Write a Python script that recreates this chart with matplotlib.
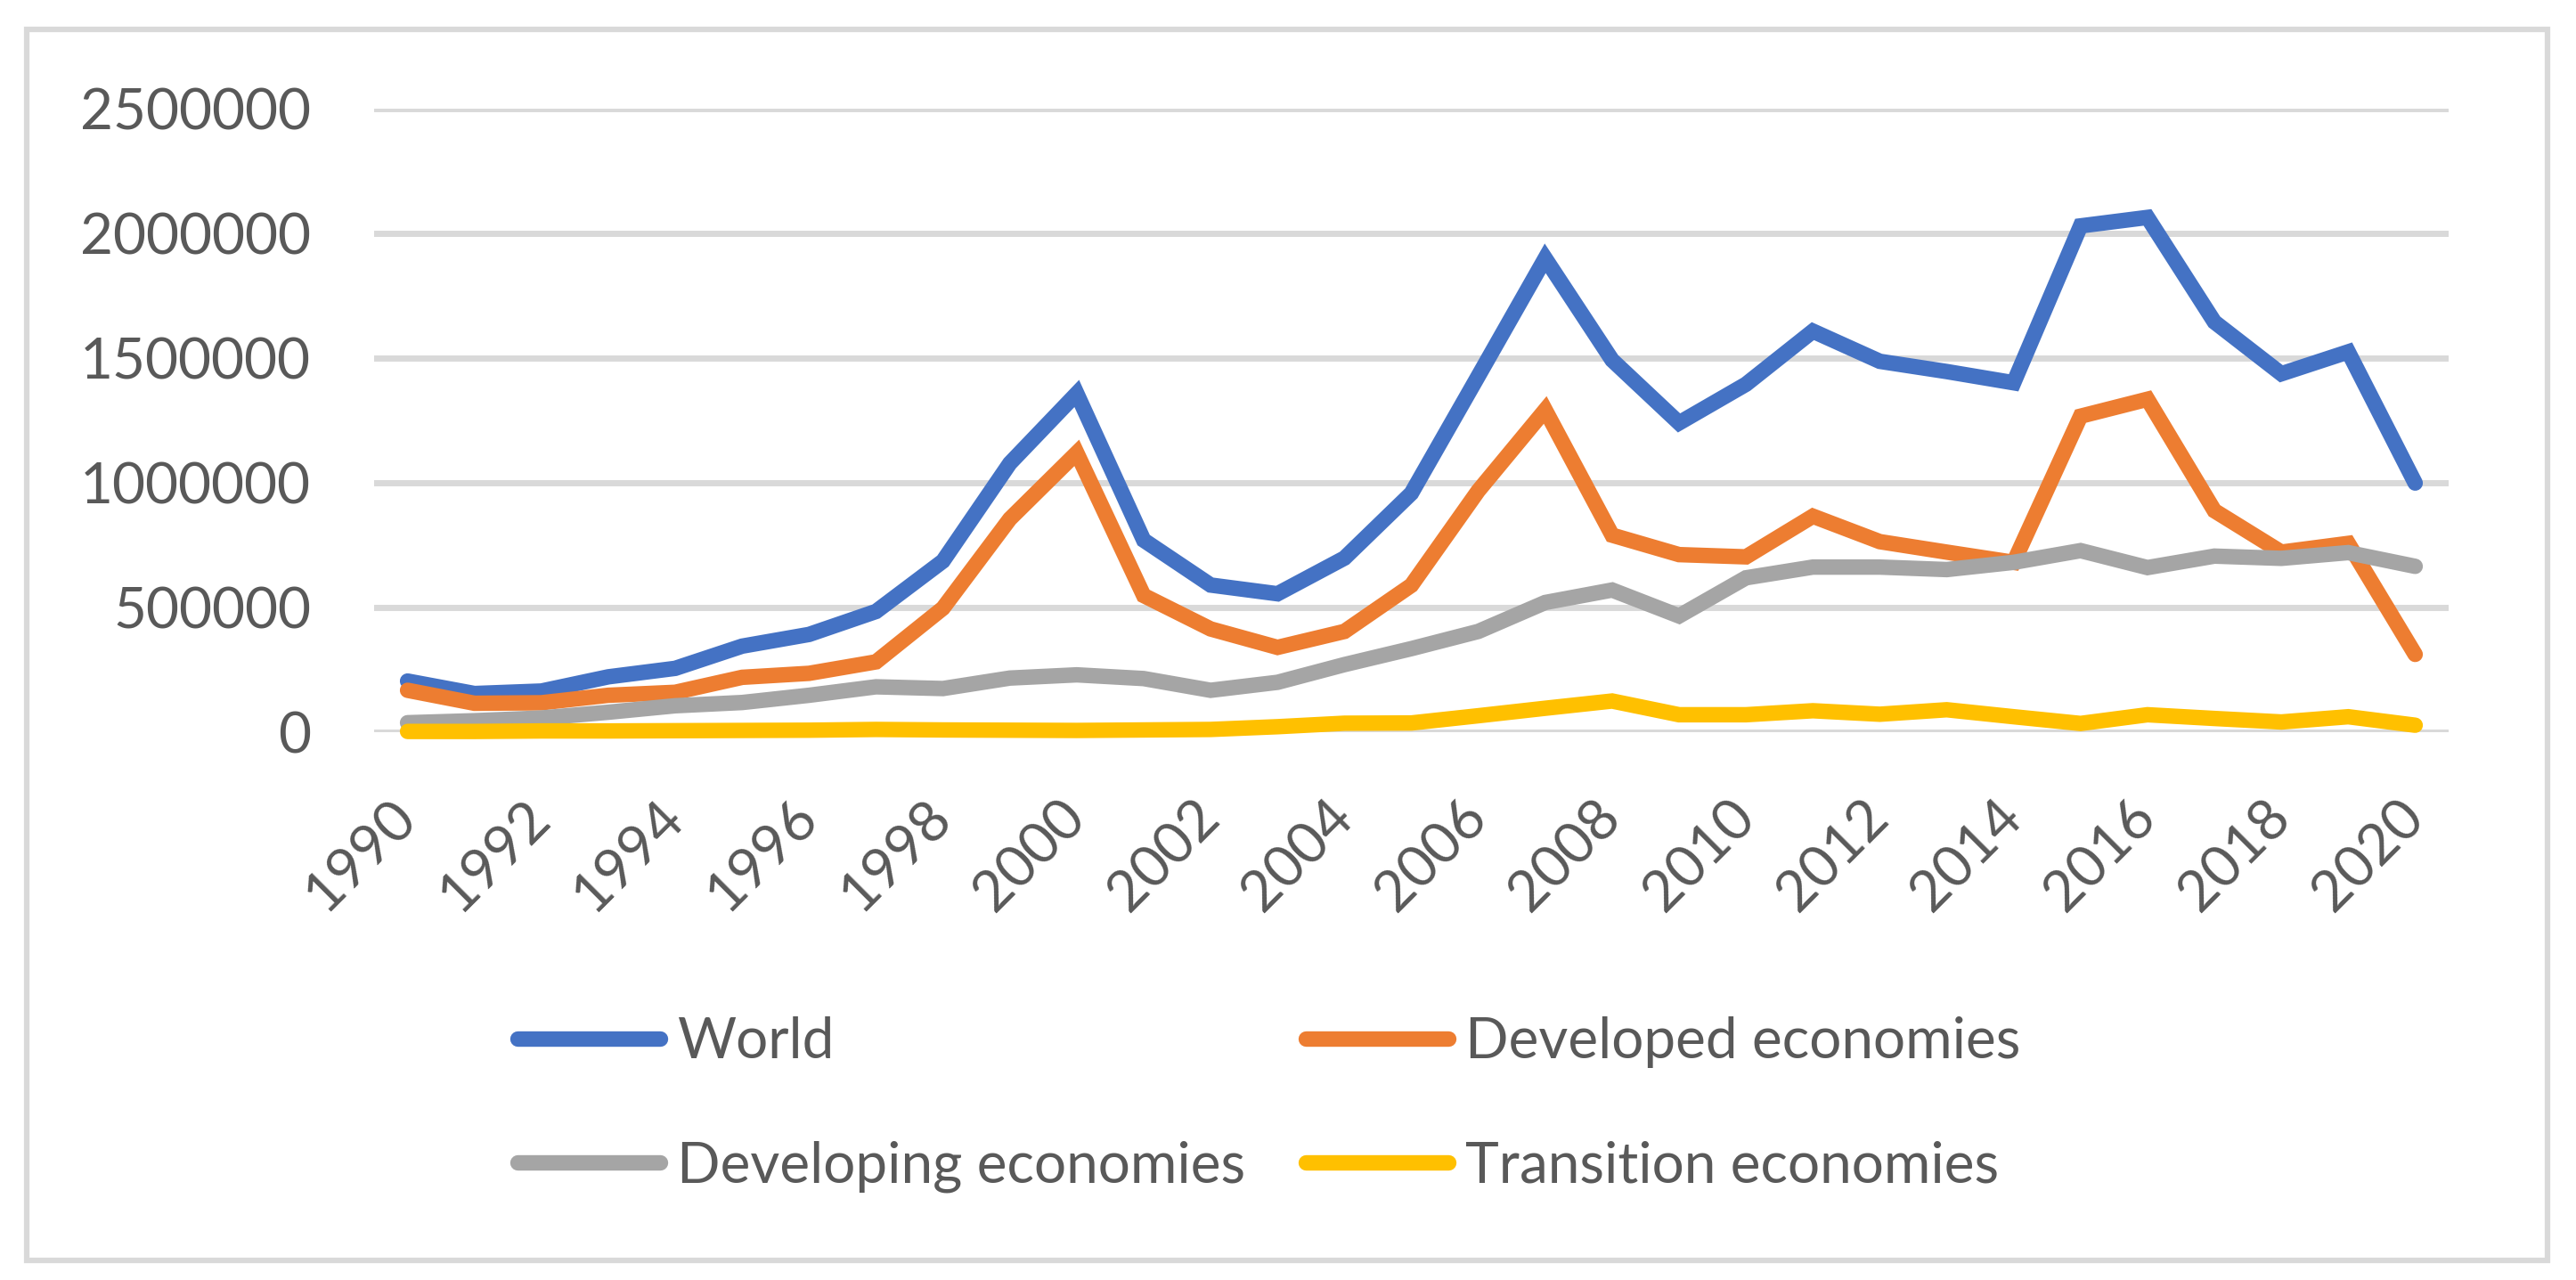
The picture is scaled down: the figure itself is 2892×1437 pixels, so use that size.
import numpy as np
import matplotlib.pyplot as plt
from matplotlib.patches import Rectangle

# FDI inflows by economy group
years = list(range(1990, 2021))

world = [205000, 155000, 165000, 222000, 256000, 345000, 392000, 484000, 686000, 1078000,
         1358000, 770000, 590000, 555000, 698000, 958000, 1428000, 1900000, 1492000, 1240000,
         1395000, 1608000, 1487000, 1446000, 1401000, 2030000, 2064000, 1645000, 1437000, 1525000,
         999000]
developed = [168000, 116000, 118000, 148000, 160000, 220000, 236000, 282000, 497000, 855000,
             1120000, 548000, 414000, 340000, 404000, 589000, 968000, 1292000, 790000, 712000,
             703000, 866000, 764000, 722000, 681000, 1267000, 1335000, 888000, 722000, 757000,
             312000]
developing = [38000, 46000, 57000, 80000, 106000, 119000, 148000, 182000, 175000, 217000,
              230000, 215000, 168000, 200000, 271000, 335000, 404000, 520000, 570000, 466000,
              619000, 662000, 662000, 652000, 681000, 728000, 660000, 706000, 697000, 720000,
              665000]
transition = [3000, 3000, 5000, 5000, 6000, 7000, 8000, 11000, 9000, 8000,
              7000, 9000, 11000, 22000, 36000, 37000, 66000, 96000, 125000, 70000,
              70000, 86000, 72000, 90000, 62000, 35000, 70000, 55000, 41000, 62000,
              28000]

series = [
    ('World', world, '#4472C4'),
    ('Developed economies', developed, '#ED7D31'),
    ('Developing economies', developing, '#A5A5A5'),
    ('Transition economies', transition, '#FFC000'),
]

text_color = '#595959'
plt.rcParams['font.family'] = ['Lato', 'DejaVu Sans']

W, H = 2892, 1437
fig = plt.figure(figsize=(W / 100, H / 100), dpi=100)
ax = fig.add_axes([420 / W, 1 - 822 / H, (2749 - 420) / W, (822 - 122) / H])

lines = []
for name, vals, col in series:
    ln, = ax.plot(years, vals, color=col, lw=12.5, label=name, solid_capstyle='round',
                  solid_joinstyle='miter', clip_on=False, zorder=3)
    lines.append(ln)

ax.set_xlim(1989.5, 2020.5)
ax.set_ylim(0, 2500000)
ax.set_yticks(np.arange(0, 2500001, 500000))
ax.set_yticklabels([str(v) for v in range(0, 2500001, 500000)])
ax.set_xticks(years[::2])
ax.set_xticklabels([str(y) for y in years[::2]], rotation=45, ha='right', va='center',
                   rotation_mode='anchor')
ax.tick_params(axis='y', length=0, pad=51, labelsize=46, labelcolor=text_color)
ax.tick_params(axis='x', length=0, pad=62, labelsize=46, labelcolor=text_color)
ax.grid(axis='y', color='#D9D9D9', lw=5, zorder=0)
ax.set_axisbelow(True)
for s in ax.spines.values():
    s.set_visible(False)

# legend fills columns first, so reorder to get rows World/Developed, Developing/Transition
order = [0, 2, 1, 3]
fig.legend([lines[i] for i in order], [series[i][0] for i in order],
           loc='center left', bbox_to_anchor=(581 / W, 1 - 1240 / H), ncol=2,
           frameon=False, fontsize=46, labelcolor=text_color, handlelength=2.5,
           handletextpad=0.3, columnspacing=1.07, labelspacing=1.27, borderpad=0,
           borderaxespad=0)

fig.patches.append(Rectangle((30 / W, 1 - 1415 / H), (2860 - 30) / W, (1415 - 33) / H,
                             transform=fig.transFigure, fill=False, edgecolor='#D9D9D9',
                             lw=4.5, zorder=0))

fig.savefig('out.png', dpi=100, facecolor='white')
